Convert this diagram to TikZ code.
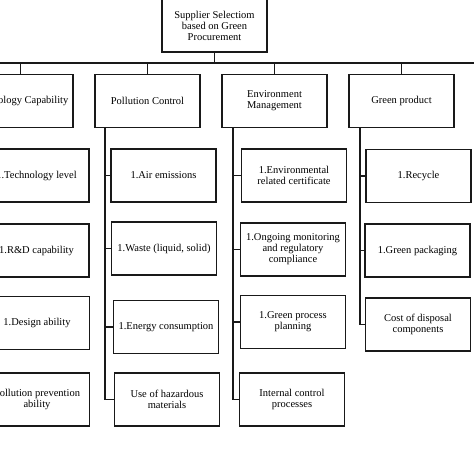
\documentclass[tikz,border=0pt]{standalone}
\usepackage{fontspec}
\setmainfont{Liberation Serif}
\begin{document}
\begin{tikzpicture}[x=1pt,y=-1pt,
  box/.style={draw=black!90, line width=1.3pt, rectangle, minimum width=105pt, minimum height=53pt, align=center, inner sep=2pt, font=\fontsize{10.5}{11}\selectfont, fill=white},
  conn/.style={draw=black!90, line width=1.3pt}]
\useasboundingbox (0,0) rectangle (474,474);
\clip (0,0) rectangle (474,474);
% root
\node[box] (root) at (214.5,25.5) {Supplier Selectiom\\based on Green\\Procurement};
\coordinate (busL) at (-60,63);
\coordinate (busR) at (490,63);
% categories
\node[box] (c1) at (20.5,101) {Technology Capability};
\node[box] (c2) at (147.5,101) {Pollution Control};
\node[box] (c3) at (274.5,101) {Environment\\Management};
\node[box] (c4) at (401.5,101) {Green product};
% column 1
\node[box] (a1) at (36.5,175.5) {1.Technology level};
\node[box] (a2) at (36.5,250.5) {1.R\&D capability};
\node[box] (a3) at (37,323) {1.Design ability};
\node[box] (a4) at (37,399.5) {Pollution prevention\\ability};
% column 2
\node[box] (b1) at (163.5,175.5) {1.Air emissions};
\node[box] (b2) at (164,248.5) {1.Waste (liquid, solid)};
\node[box] (b3) at (166,327) {1.Energy consumption};
\node[box] (b4) at (167,399.5) {Use of hazardous\\materials};
% column 3
\node[box] (e1) at (294,175.5) {1.Environmental\\related certificate};
\node[box] (e2) at (293,249.5) {1.Ongoing monitoring\\and regulatory\\compliance};
\node[box] (e3) at (293,322) {1.Green process\\planning};
\node[box] (e4) at (292,399.5) {Internal control\\processes};
% column 4
\node[box] (g1) at (418.5,176) {1.Recycle};
\node[box] (g2) at (417.5,250.5) {1.Green packaging};
\node[box] (g3) at (418,324.5) {Cost of disposal\\components};
% bus
\draw[conn] (busL) -- (busR);
\draw[conn] (root.south) -- (root.south |- busL);
\foreach \c in {c1,c2,c3,c4} {\draw[conn] (\c.north) -- (\c.north |- busL);}
% trunks
\coordinate (t1) at (-22,127.5);
\coordinate (t2) at (105,127.5);
\coordinate (t3) at (233,127.5);
\coordinate (t4) at (360,127.5);
\foreach \n in {a1,a2,a3,a4} {\draw[conn] (t1) |- (\n.west);}
\foreach \n in {b1,b2,b3,b4} {\draw[conn] (t2) |- (\n.west);}
\foreach \n in {e1,e2,e3,e4} {\draw[conn] (t3) |- (\n.west);}
\foreach \n in {g1,g2,g3} {\draw[conn] (t4) |- (\n.west);}
\end{tikzpicture}
\end{document}
